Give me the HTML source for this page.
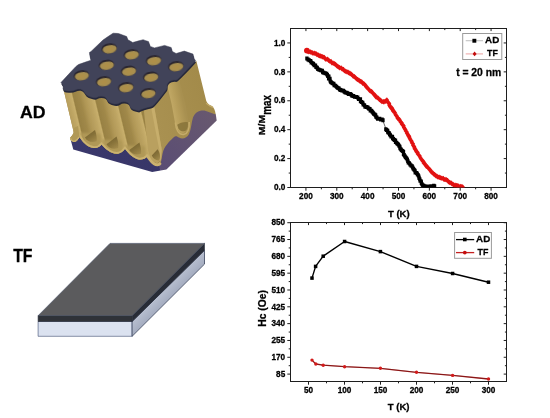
<!DOCTYPE html>
<html lang="en"><head><meta charset="utf-8"><title>AD vs TF magnetic properties</title>
<style>
html,body{margin:0;padding:0;background:#fff;}
body{width:550px;height:418px;overflow:hidden;font-family:"Liberation Sans", Arial, sans-serif;}
svg{display:block}
text{font-family:"Liberation Sans", Arial, sans-serif;font-weight:700;fill:#000;stroke:#000;stroke-width:.28px;paint-order:stroke}
.tk{font-size:8.2px}
.lab{font-size:9.6px}
.lg{font-size:9.8px}
.big{font-size:17.2px;fill:#000}
</style></head><body>
<svg width="550" height="418" viewBox="0 0 550 418">
<rect width="550" height="418" fill="#fff"/>
<g id="chart1">
<rect x="290.5" y="28.5" width="216" height="159" fill="#fff" stroke="#1e1e1e" stroke-width="1"/>
<path d="M305.93 187.5v3.2M305.93 28.5v2.6M336.79 187.5v3.2M336.79 28.5v2.6M367.64 187.5v3.2M367.64 28.5v2.6M398.5 187.5v3.2M398.5 28.5v2.6M429.36 187.5v3.2M429.36 28.5v2.6M460.21 187.5v3.2M460.21 28.5v2.6M491.07 187.5v3.2M491.07 28.5v2.6M321.36 187.5v1.8M321.36 28.5v1.6M352.21 187.5v1.8M352.21 28.5v1.6M383.07 187.5v1.8M383.07 28.5v1.6M413.93 187.5v1.8M413.93 28.5v1.6M444.79 187.5v1.8M444.79 28.5v1.6M475.64 187.5v1.8M475.64 28.5v1.6M290.5 187.5h-3.2M506.5 187.5h-2.8M290.5 158.59h-3.2M506.5 158.59h-2.8M290.5 129.68h-3.2M506.5 129.68h-2.8M290.5 100.77h-3.2M506.5 100.77h-2.8M290.5 71.86h-3.2M506.5 71.86h-2.8M290.5 42.95h-3.2M506.5 42.95h-2.8M290.5 173.05h-1.8M506.5 173.05h-1.6M290.5 144.14h-1.8M506.5 144.14h-1.6M290.5 115.23h-1.8M506.5 115.23h-1.6M290.5 86.32h-1.8M506.5 86.32h-1.6M290.5 57.41h-1.8M506.5 57.41h-1.6" stroke="#1e1e1e" stroke-width="1" fill="none"/>
<text x="305.93" y="198.9" class="tk" text-anchor="middle">200</text>
<text x="336.79" y="198.9" class="tk" text-anchor="middle">300</text>
<text x="367.64" y="198.9" class="tk" text-anchor="middle">400</text>
<text x="398.5" y="198.9" class="tk" text-anchor="middle">500</text>
<text x="429.36" y="198.9" class="tk" text-anchor="middle">600</text>
<text x="460.21" y="198.9" class="tk" text-anchor="middle">700</text>
<text x="491.07" y="198.9" class="tk" text-anchor="middle">800</text>
<text x="285.4" y="190.2" class="tk" text-anchor="end">0.0</text>
<text x="285.4" y="161.29" class="tk" text-anchor="end">0.2</text>
<text x="285.4" y="132.38" class="tk" text-anchor="end">0.4</text>
<text x="285.4" y="103.47" class="tk" text-anchor="end">0.6</text>
<text x="285.4" y="74.56" class="tk" text-anchor="end">0.8</text>
<text x="285.4" y="45.65" class="tk" text-anchor="end">1.0</text>
<text x="398.8" y="216.7" class="lab" text-anchor="middle">T (K)</text>
<text transform="translate(265.3 135.3) rotate(-90) scale(1.19 1)" class="lab" style="font-size:8.9px">M/M</text>
<text transform="translate(270.8 114.8) rotate(-90) scale(0.935 1.15)" class="lab" style="font-size:10.6px">max</text>
<path d="M383 121L386 129" stroke="#222" stroke-width=".7"/>
<clipPath id="cp1"><rect x="290.5" y="28.5" width="216" height="159"/></clipPath>
<path d="M305.25 56.6h3.3v4h-3.3zM306.39 57.46h3.3v4h-3.3zM307.54 58.31h3.3v4h-3.3zM309.05 58.93h3.3v4h-3.3zM309.6 60.52h3.3v4h-3.3zM311.08 61.17h3.3v4h-3.3zM311.86 62.12h3.3v4h-3.3zM312.52 63.2h3.3v4h-3.3zM313.86 63.59h3.3v4h-3.3zM314.33 65.02h3.3v4h-3.3zM315.59 65.66h3.3v4h-3.3zM316.16 66.99h3.3v4h-3.3zM317.45 67.77h3.3v4h-3.3zM319.02 68.27h3.3v4h-3.3zM320.64 68.71h3.3v4h-3.3zM321.07 70.14h3.3v4h-3.3zM322.22 70.85h3.3v4h-3.3zM323.64 71.29h3.3v4h-3.3zM324.99 71.8h3.3v4h-3.3zM325.72 72.93h3.3v4h-3.3zM326.12 74.09h3.3v4h-3.3zM327.21 74.57h3.3v4h-3.3zM326.94 76.41h3.3v4h-3.3zM328.31 76.81h3.3v4h-3.3zM328.43 78.46h3.3v4h-3.3zM328.93 79.72h3.3v4h-3.3zM329.77 80.61h3.3v4h-3.3zM330.81 81.31h3.3v4h-3.3zM332.13 81.72h3.3v4h-3.3zM332.53 83.22h3.3v4h-3.3zM333.86 83.79h3.3v4h-3.3zM334.88 84.67h3.3v4h-3.3zM335.84 85.65h3.3v4h-3.3zM337.19 86.22h3.3v4h-3.3zM337.96 87.39h3.3v4h-3.3zM339.05 88.06h3.3v4h-3.3zM340.29 88.58h3.3v4h-3.3zM341.81 88.82h3.3v4h-3.3zM342.68 89.71h3.3v4h-3.3zM343.68 90.47h3.3v4h-3.3zM345.05 90.7h3.3v4h-3.3zM346.06 91.29h3.3v4h-3.3zM347.04 91.91h3.3v4h-3.3zM348.61 91.94h3.3v4h-3.3zM349.65 92.67h3.3v4h-3.3zM350.37 93.73h3.3v4h-3.3zM351.79 94.08h3.3v4h-3.3zM352.87 94.78h3.3v4h-3.3zM354.69 94.96h3.3v4h-3.3zM356.06 95.59h3.3v4h-3.3zM356.91 96.99h3.3v4h-3.3zM358.78 97.37h3.3v4h-3.3zM358.84 99.21h3.3v4h-3.3zM359.94 100.01h3.3v4h-3.3zM361.08 100.77h3.3v4h-3.3zM361.54 102.41h3.3v4h-3.3zM362.84 103.21h3.3v4h-3.3zM363.44 104.71h3.3v4h-3.3zM365.03 104.92h3.3v4h-3.3zM366.14 105.61h3.3v4h-3.3zM366.99 106.56h3.3v4h-3.3zM368.29 107.06h3.3v4h-3.3zM368.63 108.39h3.3v4h-3.3zM369.83 108.87h3.3v4h-3.3zM370.58 109.79h3.3v4h-3.3zM371.42 110.63h3.3v4h-3.3zM372.05 111.74h3.3v4h-3.3zM373.14 112.39h3.3v4h-3.3zM373.97 113.3h3.3v4h-3.3zM374.29 114.72h3.3v4h-3.3zM375.2 115.55h3.3v4h-3.3zM376.05 116.75h3.3v4h-3.3zM378.03 116.82h3.3v4h-3.3zM379.05 117.4h3.3v4h-3.3zM380.43 117.62h3.3v4h-3.3zM381.34 118.31h3.3v4h-3.3zM384.16 127.19h3.3v4h-3.3zM385 128.05h3.3v4h-3.3zM386 128.75h3.3v4h-3.3zM386.22 130.35h3.3v4h-3.3zM387.42 130.97h3.3v4h-3.3zM387.95 132.26h3.3v4h-3.3zM388.71 133.32h3.3v4h-3.3zM389.45 134.4h3.3v4h-3.3zM390.82 134.71h3.3v4h-3.3zM390.98 136.23h3.3v4h-3.3zM391.82 137.08h3.3v4h-3.3zM392.69 137.9h3.3v4h-3.3zM393.85 138.42h3.3v4h-3.3zM393.87 140.08h3.3v4h-3.3zM394.92 140.81h3.3v4h-3.3zM395.73 141.78h3.3v4h-3.3zM396.76 142.53h3.3v4h-3.3zM397.42 143.65h3.3v4h-3.3zM398.18 144.67h3.3v4h-3.3zM398.37 146.28h3.3v4h-3.3zM399.21 147.24h3.3v4h-3.3zM399.88 148.37h3.3v4h-3.3zM401.08 148.97h3.3v4h-3.3zM401.86 149.99h3.3v4h-3.3zM401.82 151.89h3.3v4h-3.3zM402.52 153.05h3.3v4h-3.3zM403.25 154.18h3.3v4h-3.3zM403.93 155.36h3.3v4h-3.3zM404.84 156.31h3.3v4h-3.3zM405.67 157.44h3.3v4h-3.3zM406.12 158.95h3.3v4h-3.3zM406.62 160.41h3.3v4h-3.3zM407.74 161.25h3.3v4h-3.3zM408.43 162.52h3.3v4h-3.3zM409.39 163.42h3.3v4h-3.3zM410.52 164.15h3.3v4h-3.3zM411.06 165.47h3.3v4h-3.3zM411.68 166.71h3.3v4h-3.3zM412.56 167.69h3.3v4h-3.3zM413.37 168.8h3.3v4h-3.3zM413.57 170.52h3.3v4h-3.3zM415.09 170.92h3.3v4h-3.3zM415.74 172.19h3.3v4h-3.3zM416.59 173.26h3.3v4h-3.3zM417.17 174.53h3.3v4h-3.3zM417.45 176.1h3.3v4h-3.3zM418.11 177.29h3.3v4h-3.3zM418.49 178.76h3.3v4h-3.3zM419.6 179.4h3.3v4h-3.3zM419.71 181.04h3.3v4h-3.3zM420.34 182.16h3.3v4h-3.3zM421.09 183.16h3.3v4h-3.3zM422.05 183.85h3.3v4h-3.3zM423.21 184.34h3.3v4h-3.3zM424.2 184.6h3.3v4h-3.3zM425.4 184.65h3.3v4h-3.3zM426.79 184.51h3.3v4h-3.3zM427.99 184.56h3.3v4h-3.3zM429.38 184.32h3.3v4h-3.3zM430.22 184.63h3.3v4h-3.3zM432.14 183.86h3.3v4h-3.3zM432.95 184.2h3.3v4h-3.3z" fill="#000" clip-path="url(#cp1)"/>
<path d="M306.97 47.68l2.25 2.75l-2.25 2.75l-2.25-2.75zM307.74 48.46l2.25 2.75l-2.25 2.75l-2.25-2.75zM308.85 48.9l2.25 2.75l-2.25 2.75l-2.25-2.75zM310.41 49.29l2.25 2.75l-2.25 2.75l-2.25-2.75zM311.92 49.73l2.25 2.75l-2.25 2.75l-2.25-2.75zM313.01 50.4l2.25 2.75l-2.25 2.75l-2.25-2.75zM314.69 50.48l2.25 2.75l-2.25 2.75l-2.25-2.75zM316.02 50.91l2.25 2.75l-2.25 2.75l-2.25-2.75zM316.94 51.75l2.25 2.75l-2.25 2.75l-2.25-2.75zM318.19 52.26l2.25 2.75l-2.25 2.75l-2.25-2.75zM319.22 52.93l2.25 2.75l-2.25 2.75l-2.25-2.75zM320.49 53.36l2.25 2.75l-2.25 2.75l-2.25-2.75zM321.91 53.64l2.25 2.75l-2.25 2.75l-2.25-2.75zM322.92 54.33l2.25 2.75l-2.25 2.75l-2.25-2.75zM324.32 54.63l2.25 2.75l-2.25 2.75l-2.25-2.75zM324.98 55.67l2.25 2.75l-2.25 2.75l-2.25-2.75zM325.95 56.4l2.25 2.75l-2.25 2.75l-2.25-2.75zM327.57 56.48l2.25 2.75l-2.25 2.75l-2.25-2.75zM328.55 57.43l2.25 2.75l-2.25 2.75l-2.25-2.75zM329.55 58.36l2.25 2.75l-2.25 2.75l-2.25-2.75zM331.03 58.82l2.25 2.75l-2.25 2.75l-2.25-2.75zM331.8 59.91l2.25 2.75l-2.25 2.75l-2.25-2.75zM333.18 60.39l2.25 2.75l-2.25 2.75l-2.25-2.75zM334.53 60.9l2.25 2.75l-2.25 2.75l-2.25-2.75zM335.54 61.75l2.25 2.75l-2.25 2.75l-2.25-2.75zM336.52 62.63l2.25 2.75l-2.25 2.75l-2.25-2.75zM337.41 63.57l2.25 2.75l-2.25 2.75l-2.25-2.75zM338.62 64.18l2.25 2.75l-2.25 2.75l-2.25-2.75zM339.65 64.97l2.25 2.75l-2.25 2.75l-2.25-2.75zM341.16 65.29l2.25 2.75l-2.25 2.75l-2.25-2.75zM342.14 66.18l2.25 2.75l-2.25 2.75l-2.25-2.75zM343.42 66.78l2.25 2.75l-2.25 2.75l-2.25-2.75zM344.27 67.8l2.25 2.75l-2.25 2.75l-2.25-2.75zM345.33 68.62l2.25 2.75l-2.25 2.75l-2.25-2.75zM346.81 68.91l2.25 2.75l-2.25 2.75l-2.25-2.75zM348.04 69.46l2.25 2.75l-2.25 2.75l-2.25-2.75zM349.09 70.19l2.25 2.75l-2.25 2.75l-2.25-2.75zM350.18 70.87l2.25 2.75l-2.25 2.75l-2.25-2.75zM351.32 71.61l2.25 2.75l-2.25 2.75l-2.25-2.75zM352.39 72.41l2.25 2.75l-2.25 2.75l-2.25-2.75zM353.21 73.46l2.25 2.75l-2.25 2.75l-2.25-2.75zM354.51 74.04l2.25 2.75l-2.25 2.75l-2.25-2.75zM355.54 74.94l2.25 2.75l-2.25 2.75l-2.25-2.75zM356.47 75.93l2.25 2.75l-2.25 2.75l-2.25-2.75zM357.59 76.73l2.25 2.75l-2.25 2.75l-2.25-2.75zM358.87 77.38l2.25 2.75l-2.25 2.75l-2.25-2.75zM359.78 78.21l2.25 2.75l-2.25 2.75l-2.25-2.75zM360.96 78.77l2.25 2.75l-2.25 2.75l-2.25-2.75zM362.03 79.44l2.25 2.75l-2.25 2.75l-2.25-2.75zM362.65 80.56l2.25 2.75l-2.25 2.75l-2.25-2.75zM363.86 81.09l2.25 2.75l-2.25 2.75l-2.25-2.75zM364.77 81.88l2.25 2.75l-2.25 2.75l-2.25-2.75zM365.63 82.72l2.25 2.75l-2.25 2.75l-2.25-2.75zM366.16 83.89l2.25 2.75l-2.25 2.75l-2.25-2.75zM366.95 84.8l2.25 2.75l-2.25 2.75l-2.25-2.75zM367.84 85.61l2.25 2.75l-2.25 2.75l-2.25-2.75zM368.76 86.63l2.25 2.75l-2.25 2.75l-2.25-2.75zM369.7 87.63l2.25 2.75l-2.25 2.75l-2.25-2.75zM370.89 88.38l2.25 2.75l-2.25 2.75l-2.25-2.75zM372 89.21l2.25 2.75l-2.25 2.75l-2.25-2.75zM372.9 90.25l2.25 2.75l-2.25 2.75l-2.25-2.75zM373.51 91.31l2.25 2.75l-2.25 2.75l-2.25-2.75zM374.44 92.06l2.25 2.75l-2.25 2.75l-2.25-2.75zM375.35 92.82l2.25 2.75l-2.25 2.75l-2.25-2.75zM375.75 94.1l2.25 2.75l-2.25 2.75l-2.25-2.75zM377.1 94.65l2.25 2.75l-2.25 2.75l-2.25-2.75zM378.25 95.4l2.25 2.75l-2.25 2.75l-2.25-2.75zM379.17 96.38l2.25 2.75l-2.25 2.75l-2.25-2.75zM380.15 97.3l2.25 2.75l-2.25 2.75l-2.25-2.75zM381.05 98l2.25 2.75l-2.25 2.75l-2.25-2.75zM381.94 98.71l2.25 2.75l-2.25 2.75l-2.25-2.75zM383.37 98.88l2.25 2.75l-2.25 2.75l-2.25-2.75zM384.1 99l2.25 2.75l-2.25 2.75l-2.25-2.75zM385.38 98.57l2.25 2.75l-2.25 2.75l-2.25-2.75zM386.88 97.37l2.25 2.75l-2.25 2.75l-2.25-2.75zM387.17 98.65l2.25 2.75l-2.25 2.75l-2.25-2.75zM387.81 99.58l2.25 2.75l-2.25 2.75l-2.25-2.75zM388.77 100.18l2.25 2.75l-2.25 2.75l-2.25-2.75zM389.23 101.32l2.25 2.75l-2.25 2.75l-2.25-2.75zM389.5 102.65l2.25 2.75l-2.25 2.75l-2.25-2.75zM390.08 103.67l2.25 2.75l-2.25 2.75l-2.25-2.75zM390.69 104.66l2.25 2.75l-2.25 2.75l-2.25-2.75zM391.88 105.36l2.25 2.75l-2.25 2.75l-2.25-2.75zM392.55 106.57l2.25 2.75l-2.25 2.75l-2.25-2.75zM392.89 108.11l2.25 2.75l-2.25 2.75l-2.25-2.75zM394.03 108.85l2.25 2.75l-2.25 2.75l-2.25-2.75zM394.85 109.91l2.25 2.75l-2.25 2.75l-2.25-2.75zM395.39 111.26l2.25 2.75l-2.25 2.75l-2.25-2.75zM395.98 112.56l2.25 2.75l-2.25 2.75l-2.25-2.75zM396.86 113.55l2.25 2.75l-2.25 2.75l-2.25-2.75zM397.38 114.92l2.25 2.75l-2.25 2.75l-2.25-2.75zM398.08 116.11l2.25 2.75l-2.25 2.75l-2.25-2.75zM399.42 116.65l2.25 2.75l-2.25 2.75l-2.25-2.75zM399.99 117.96l2.25 2.75l-2.25 2.75l-2.25-2.75zM400.63 119.13l2.25 2.75l-2.25 2.75l-2.25-2.75zM401.59 119.99l2.25 2.75l-2.25 2.75l-2.25-2.75zM402 121.39l2.25 2.75l-2.25 2.75l-2.25-2.75zM402.98 122.23l2.25 2.75l-2.25 2.75l-2.25-2.75zM403.67 123.35l2.25 2.75l-2.25 2.75l-2.25-2.75zM404.01 124.82l2.25 2.75l-2.25 2.75l-2.25-2.75zM404.75 125.9l2.25 2.75l-2.25 2.75l-2.25-2.75zM405.35 127.02l2.25 2.75l-2.25 2.75l-2.25-2.75zM405.89 128.19l2.25 2.75l-2.25 2.75l-2.25-2.75zM406.67 129.13l2.25 2.75l-2.25 2.75l-2.25-2.75zM407.04 130.47l2.25 2.75l-2.25 2.75l-2.25-2.75zM407.71 131.51l2.25 2.75l-2.25 2.75l-2.25-2.75zM408.11 132.83l2.25 2.75l-2.25 2.75l-2.25-2.75zM409.15 133.5l2.25 2.75l-2.25 2.75l-2.25-2.75zM409.43 135.08l2.25 2.75l-2.25 2.75l-2.25-2.75zM410.1 136.26l2.25 2.75l-2.25 2.75l-2.25-2.75zM410.79 137.43l2.25 2.75l-2.25 2.75l-2.25-2.75zM411.6 138.48l2.25 2.75l-2.25 2.75l-2.25-2.75zM411.92 140.01l2.25 2.75l-2.25 2.75l-2.25-2.75zM412.84 140.96l2.25 2.75l-2.25 2.75l-2.25-2.75zM413.2 142.45l2.25 2.75l-2.25 2.75l-2.25-2.75zM413.82 143.49l2.25 2.75l-2.25 2.75l-2.25-2.75zM414.41 144.55l2.25 2.75l-2.25 2.75l-2.25-2.75zM414.71 145.91l2.25 2.75l-2.25 2.75l-2.25-2.75zM415.56 146.71l2.25 2.75l-2.25 2.75l-2.25-2.75zM416.01 147.93l2.25 2.75l-2.25 2.75l-2.25-2.75zM416.5 149.09l2.25 2.75l-2.25 2.75l-2.25-2.75zM417.58 149.67l2.25 2.75l-2.25 2.75l-2.25-2.75zM417.9 151.21l2.25 2.75l-2.25 2.75l-2.25-2.75zM418.78 152.2l2.25 2.75l-2.25 2.75l-2.25-2.75zM419.64 153.21l2.25 2.75l-2.25 2.75l-2.25-2.75zM420.23 154.48l2.25 2.75l-2.25 2.75l-2.25-2.75zM420.8 155.79l2.25 2.75l-2.25 2.75l-2.25-2.75zM421.61 156.84l2.25 2.75l-2.25 2.75l-2.25-2.75zM422.43 157.88l2.25 2.75l-2.25 2.75l-2.25-2.75zM423.37 158.81l2.25 2.75l-2.25 2.75l-2.25-2.75zM423.76 160.29l2.25 2.75l-2.25 2.75l-2.25-2.75zM424.84 161.08l2.25 2.75l-2.25 2.75l-2.25-2.75zM425.45 162.33l2.25 2.75l-2.25 2.75l-2.25-2.75zM426.27 163.38l2.25 2.75l-2.25 2.75l-2.25-2.75zM427.36 164.02l2.25 2.75l-2.25 2.75l-2.25-2.75zM428 165.11l2.25 2.75l-2.25 2.75l-2.25-2.75zM428.84 166.01l2.25 2.75l-2.25 2.75l-2.25-2.75zM429.76 166.83l2.25 2.75l-2.25 2.75l-2.25-2.75zM430.65 167.67l2.25 2.75l-2.25 2.75l-2.25-2.75zM431.17 168.88l2.25 2.75l-2.25 2.75l-2.25-2.75zM432.19 169.63l2.25 2.75l-2.25 2.75l-2.25-2.75zM433.05 170.55l2.25 2.75l-2.25 2.75l-2.25-2.75zM433.98 171.39l2.25 2.75l-2.25 2.75l-2.25-2.75zM435.02 172.13l2.25 2.75l-2.25 2.75l-2.25-2.75zM435.9 172.9l2.25 2.75l-2.25 2.75l-2.25-2.75zM436.97 173.48l2.25 2.75l-2.25 2.75l-2.25-2.75zM437.96 174.14l2.25 2.75l-2.25 2.75l-2.25-2.75zM439.26 174.49l2.25 2.75l-2.25 2.75l-2.25-2.75zM440.45 175.06l2.25 2.75l-2.25 2.75l-2.25-2.75zM441.89 175.39l2.25 2.75l-2.25 2.75l-2.25-2.75zM443.27 175.78l2.25 2.75l-2.25 2.75l-2.25-2.75zM443.89 176.59l2.25 2.75l-2.25 2.75l-2.25-2.75zM445.1 176.81l2.25 2.75l-2.25 2.75l-2.25-2.75zM446.37 176.98l2.25 2.75l-2.25 2.75l-2.25-2.75zM447.6 177.81l2.25 2.75l-2.25 2.75l-2.25-2.75zM448.48 179l2.25 2.75l-2.25 2.75l-2.25-2.75zM449.77 179.78l2.25 2.75l-2.25 2.75l-2.25-2.75zM451.09 180.23l2.25 2.75l-2.25 2.75l-2.25-2.75zM451.99 181.11l2.25 2.75l-2.25 2.75l-2.25-2.75zM453.22 181.66l2.25 2.75l-2.25 2.75l-2.25-2.75zM454.24 182.41l2.25 2.75l-2.25 2.75l-2.25-2.75zM455.77 182.48l2.25 2.75l-2.25 2.75l-2.25-2.75zM457 182.85l2.25 2.75l-2.25 2.75l-2.25-2.75zM458.24 183.21l2.25 2.75l-2.25 2.75l-2.25-2.75zM459.02 183.83l2.25 2.75l-2.25 2.75l-2.25-2.75zM460.58 183.67l2.25 2.75l-2.25 2.75l-2.25-2.75zM461.77 183.88l2.25 2.75l-2.25 2.75l-2.25-2.75zM462.69 184.36l2.25 2.75l-2.25 2.75l-2.25-2.75z" fill="#e21111" clip-path="url(#cp1)"/>
<circle cx="306.9" cy="50.6" r="2.9" fill="#e21111"/>
<rect x="462.7" y="33.5" width="39.1" height="26" fill="#fff" stroke="#9a9a9a" stroke-width="1"/>
<path d="M465.7 40.7H483" stroke="#c2c2c2" stroke-width="1.1"/><rect x="472.4" y="38.8" width="3.9" height="3.9" fill="#000"/>
<path d="M465.7 53.9H483" stroke="#ecaaaa" stroke-width="1.1"/><path d="M474.6 51.6l2 2.3l-2 2.3l-2-2.3z" fill="#c40d0d"/>
<text x="492.2" y="42.9" class="lg" text-anchor="middle">AD</text>
<text x="487.1" y="56.0" class="lg" textLength="10.8" lengthAdjust="spacingAndGlyphs">TF</text>
<text x="478.7" y="75.6" class="lab" text-anchor="middle" style="font-size:10.35px">t = 20 nm</text>
</g>
<g id="chart2">
<rect x="290.5" y="222.5" width="216" height="159" fill="#fff" stroke="#1e1e1e" stroke-width="1"/>
<path d="M308.5 381.5v3.2M308.5 222.5v2.6M344.5 381.5v3.2M344.5 222.5v2.6M380.5 381.5v3.2M380.5 222.5v2.6M416.5 381.5v3.2M416.5 222.5v2.6M452.5 381.5v3.2M452.5 222.5v2.6M488.5 381.5v3.2M488.5 222.5v2.6M326.5 381.5v1.8M326.5 222.5v1.6M362.5 381.5v1.8M362.5 222.5v1.6M398.5 381.5v1.8M398.5 222.5v1.6M434.5 381.5v1.8M434.5 222.5v1.6M470.5 381.5v1.8M470.5 222.5v1.6M290.5 374.1h-3.2M506.5 374.1h-2.8M290.5 357.28h-3.2M506.5 357.28h-2.8M290.5 340.46h-3.2M506.5 340.46h-2.8M290.5 323.64h-3.2M506.5 323.64h-2.8M290.5 306.81h-3.2M506.5 306.81h-2.8M290.5 289.99h-3.2M506.5 289.99h-2.8M290.5 273.17h-3.2M506.5 273.17h-2.8M290.5 256.35h-3.2M506.5 256.35h-2.8M290.5 239.53h-3.2M506.5 239.53h-2.8M290.5 222.71h-3.2M506.5 222.71h-2.8M290.5 365.69h-1.8M506.5 365.69h-1.6M290.5 348.87h-1.8M506.5 348.87h-1.6M290.5 332.05h-1.8M506.5 332.05h-1.6M290.5 315.22h-1.8M506.5 315.22h-1.6M290.5 298.4h-1.8M506.5 298.4h-1.6M290.5 281.58h-1.8M506.5 281.58h-1.6M290.5 264.76h-1.8M506.5 264.76h-1.6M290.5 247.94h-1.8M506.5 247.94h-1.6M290.5 231.12h-1.8M506.5 231.12h-1.6" stroke="#1e1e1e" stroke-width="1" fill="none"/>
<text x="308.5" y="393.4" class="tk" text-anchor="middle">50</text>
<text x="344.5" y="393.4" class="tk" text-anchor="middle">100</text>
<text x="380.5" y="393.4" class="tk" text-anchor="middle">150</text>
<text x="416.5" y="393.4" class="tk" text-anchor="middle">200</text>
<text x="452.5" y="393.4" class="tk" text-anchor="middle">250</text>
<text x="488.5" y="393.4" class="tk" text-anchor="middle">300</text>
<text x="285.2" y="376.8" class="tk" text-anchor="end">85</text>
<text x="285.2" y="359.98" class="tk" text-anchor="end">170</text>
<text x="285.2" y="343.16" class="tk" text-anchor="end">255</text>
<text x="285.2" y="326.34" class="tk" text-anchor="end">340</text>
<text x="285.2" y="309.51" class="tk" text-anchor="end">425</text>
<text x="285.2" y="292.69" class="tk" text-anchor="end">510</text>
<text x="285.2" y="275.87" class="tk" text-anchor="end">595</text>
<text x="285.2" y="259.05" class="tk" text-anchor="end">680</text>
<text x="285.2" y="242.23" class="tk" text-anchor="end">765</text>
<text x="285.2" y="225.41" class="tk" text-anchor="end">850</text>
<text x="398.6" y="410.2" class="lab" text-anchor="middle">T (K)</text>
<text transform="translate(266 308.4) rotate(-90)" class="lab" text-anchor="middle" style="font-size:10.3px">Hc (Oe)</text>
<polyline points="312,278.1 315.6,266.4 323.2,256.2 344.6,241.5 380.4,251.6 416.5,266.4 452.6,273.5 488.5,282.2" fill="none" stroke="#000" stroke-width="1.4" stroke-linejoin="round"/>
<rect x="310.25" y="276.35" width="3.5" height="3.5" fill="#000"/>
<rect x="313.85" y="264.65" width="3.5" height="3.5" fill="#000"/>
<rect x="321.45" y="254.45" width="3.5" height="3.5" fill="#000"/>
<rect x="342.85" y="239.75" width="3.5" height="3.5" fill="#000"/>
<rect x="378.65" y="249.85" width="3.5" height="3.5" fill="#000"/>
<rect x="414.75" y="264.65" width="3.5" height="3.5" fill="#000"/>
<rect x="450.85" y="271.75" width="3.5" height="3.5" fill="#000"/>
<rect x="486.75" y="280.45" width="3.5" height="3.5" fill="#000"/>
<polyline points="312,360.1 315.8,364 323.2,365.2 344.6,366.7 380.4,368.3 416.5,372.3 452.6,375.4 488.5,379" fill="none" stroke="#b01818" stroke-width="1.3" stroke-linejoin="round"/>
<polyline points="312,360.1 315.8,364 323.2,365.2 344.6,366.7 380.4,368.3 416.5,372.3 452.6,375.4 488.5,379" fill="none" stroke="#1a1a1a" stroke-width="0.5" stroke-linejoin="round" opacity=".6"/>
<circle cx="312" cy="360.1" r="1.7" fill="#d21a1a"/>
<circle cx="315.8" cy="364" r="1.7" fill="#d21a1a"/>
<circle cx="323.2" cy="365.2" r="1.7" fill="#d21a1a"/>
<circle cx="344.6" cy="366.7" r="1.7" fill="#d21a1a"/>
<circle cx="380.4" cy="368.3" r="1.7" fill="#d21a1a"/>
<circle cx="416.5" cy="372.3" r="1.7" fill="#d21a1a"/>
<circle cx="452.6" cy="375.4" r="1.7" fill="#d21a1a"/>
<circle cx="488.5" cy="379" r="1.7" fill="#d21a1a"/>
<rect x="454.6" y="232.5" width="36.8" height="25.8" fill="#fff" stroke="#9a9a9a" stroke-width="1"/>
<path d="M456 239.6H474.2" stroke="#000" stroke-width="1.3"/><rect x="463" y="237.7" width="3.6" height="3.6" fill="#000"/>
<path d="M456 252.6H474.2" stroke="#c42020" stroke-width="1.3"/><circle cx="464.8" cy="252.6" r="1.9" fill="#c40d0d"/>
<text x="483.2" y="241.8" class="lg" text-anchor="middle">AD</text>
<text x="477.6" y="254.9" class="lg" textLength="10.8" lengthAdjust="spacingAndGlyphs">TF</text>
</g>
<text transform="translate(19.9 117.7) scale(1.03 1)" class="big">AD</text>
<text transform="translate(13.2 261.8) scale(0.92 1.03)" class="big">TF</text>
<defs><linearGradient id="subS" gradientUnits="userSpaceOnUse" x1="160" y1="285" x2="171" y2="296"><stop offset="0" stop-color="#c3cad9"/><stop offset="1" stop-color="#a6aec1"/></linearGradient></defs>
<g id="slab" stroke="#3a4a6e" stroke-width="0.6" stroke-linejoin="round">
<polygon points="38.1,321.5 132.1,321.5 132.1,336.3 38.1,336.3" fill="#dbe2f0"/>
<polygon points="132.1,321.5 204.5,250.3 204.5,264.1 132.1,336.3" fill="url(#subS)" stroke="#39425a" stroke-width=".8"/>
<polygon points="38.1,315.7 132.1,315.7 132.1,321.5 38.1,321.5" fill="#2f3238" stroke="#2a2f3c"/>
<polygon points="132.1,315.7 204.5,243.4 204.5,250.3 132.1,321.5" fill="#282c36" stroke="#2a2f3c"/>
<polygon points="110,243.4 204.5,243.4 132.1,315.7 38.1,315.7" fill="#5b5b5d" stroke="#3c465e"/>
</g>
<defs>
<linearGradient id="saw" gradientUnits="userSpaceOnUse" x1="74.2" y1="100" x2="94.62" y2="95.1" spreadMethod="repeat"><stop offset="0" stop-color="#988143"/><stop offset=".28" stop-color="#a08849"/><stop offset=".5" stop-color="#b19857"/><stop offset=".8" stop-color="#bfa664"/><stop offset=".94" stop-color="#c8af6c"/><stop offset="1" stop-color="#988143"/></linearGradient>
<linearGradient id="wallR" gradientUnits="userSpaceOnUse" x1="150" y1="100" x2="210" y2="85"><stop offset="0" stop-color="#a99151"/><stop offset="1" stop-color="#a28a49"/></linearGradient>
<linearGradient id="fluteR" gradientUnits="userSpaceOnUse" x1="168" y1="100" x2="182" y2="97"><stop offset="0" stop-color="#c6ad6a"/><stop offset=".55" stop-color="#b69d5a"/><stop offset="1" stop-color="#a89050"/></linearGradient>
<linearGradient id="baseL" gradientUnits="userSpaceOnUse" x1="70" y1="140" x2="160" y2="170"><stop offset="0" stop-color="#3a386c"/><stop offset="1" stop-color="#383668"/></linearGradient>
<linearGradient id="baseR" gradientUnits="userSpaceOnUse" x1="160" y1="165" x2="216" y2="117"><stop offset="0" stop-color="#5a4d74"/><stop offset="1" stop-color="#68586f"/></linearGradient>
<radialGradient id="hole" cx=".5" cy=".5" r=".55"><stop offset="0" stop-color="#b08f46"/><stop offset=".6" stop-color="#a98f4e"/><stop offset="1" stop-color="#a08a52"/></radialGradient>
<linearGradient id="capg" x1=".25" y1=".1" x2=".8" y2="1"><stop offset="0" stop-color="#776330"/><stop offset=".45" stop-color="#867139"/><stop offset="1" stop-color="#a1894a"/></linearGradient>
<filter id="b03" x="-10%" y="-10%" width="120%" height="120%"><feGaussianBlur stdDeviation="0.35"/></filter>
<filter id="b05" x="-5%" y="-5%" width="110%" height="110%"><feGaussianBlur stdDeviation="0.7"/></filter>
<filter id="b1" x="-20%" y="-20%" width="140%" height="140%"><feGaussianBlur stdDeviation="0.6"/></filter>
<filter id="b2" x="-20%" y="-20%" width="140%" height="140%"><feGaussianBlur stdDeviation="1.1"/></filter>
<clipPath id="cwallP"><path d="M63.2 88 L100 92 L139 108 L152 106 L160.8 163 C159.5 165.6 156.5 166 154 164.2 C151 162 149.6 158.8 147.2 156.4 C145.5 158.6 142.5 159.8 139 159.4 C133.5 158.6 129 154 125 148.8 C123 151.4 120.5 153.8 116.6 153.8 C110.5 153.4 106 149.5 101.5 144.6 C99.6 147 97 148.4 93.6 148 C87.5 147 83 142.5 79.5 136.9 C78 139.6 76.6 141.6 74.6 141.7 L70.6 139.8 L70.4 137.8 L73.9 133 Z"/></clipPath>
</defs>
<g id="block">
<polygon points="70.6,139.5 73.3,149.6 152.2,172 160.6,170.4 161.5,150 110,135 80,130" fill="url(#baseL)"/>
<polygon points="215.7,114 203.2,108.5 190,110 170,130 158,150 159.6,168.6 160.6,170.4 166.4,169.4 216.7,120.6" fill="url(#baseR)"/>
<path d="M63.2 88 L100 92 L139 108 L152 106 L160.8 163 C159.5 165.6 156.5 166 154 164.2 C151 162 149.6 158.8 147.2 156.4 C145.5 158.6 142.5 159.8 139 159.4 C133.5 158.6 129 154 125 148.8 C123 151.4 120.5 153.8 116.6 153.8 C110.5 153.4 106 149.5 101.5 144.6 C99.6 147 97 148.4 93.6 148 C87.5 147 83 142.5 79.5 136.9 C78 139.6 76.6 141.6 74.6 141.7 L70.6 139.8 L70.4 137.8 L73.9 133 Z" fill="#b0975a"/>
<g clip-path="url(#cwallP)">
<rect x="55" y="80" width="115" height="95" fill="url(#saw)" filter="url(#b05)"/>
<path d="M80.3 132.8 C83.3 143.8 90.3 149.8 95.3 148.8 C100.3 146.8 101.8 141.8 100.3 133.8Z" fill="#b09856" filter="url(#b2)"/>
<path d="M101.9 139.4 C104.9 150.4 111.9 156.4 116.9 155.4 C121.9 153.4 123.4 148.4 121.9 140.4Z" fill="#b09856" filter="url(#b2)"/>
<path d="M124.7 145.3 C127.7 156.3 134.7 162.3 139.7 161.3 C144.7 159.3 146.2 154.3 144.7 146.3Z" fill="#b09856" filter="url(#b2)"/>
<path d="M160.8 163 C159.5 165.6 156.5 166 154 164.2 C151 162 149.6 158.8 147.2 156.4 C145.5 158.6 142.5 159.8 139 159.4 C133.5 158.6 129 154 125 148.8 C123 151.4 120.5 153.8 116.6 153.8 C110.5 153.4 106 149.5 101.5 144.6 C99.6 147 97 148.4 93.6 148 C87.5 147 83 142.5 79.5 136.9 C78 139.6 76.6 141.6 74.6 141.7 L70.6 139.8" fill="none" stroke="#cbb270" stroke-width="3.4" filter="url(#b1)"/>
<path d="M95 129.9 L84.9 137.6 C86.7 141.4 91.7 143.2 96.6 141.3 C97.1 137.8 96.3 133.8 95 129.9Z" fill="url(#capg)" filter="url(#b1)"/>
<path d="M116.6 136.5 L106.5 144.2 C108.3 148 113.3 149.8 118.2 147.9 C118.7 144.4 117.9 140.4 116.6 136.5Z" fill="url(#capg)" filter="url(#b1)"/>
<path d="M139.4 142.4 L129.3 150.1 C131.1 153.9 136.1 155.7 141 153.8 C141.5 150.3 140.7 146.3 139.4 142.4Z" fill="url(#capg)" filter="url(#b1)"/>
</g>
<path d="M73.6 128 C74.2 133 72.6 135.6 70.2 137.6 C70 140 72.6 142.2 74.8 141.8 C76.8 141.4 78 139.6 79.5 136.9 L78 126Z" fill="#b19957"/>
<path d="M70.6 138.4 C70.8 140.4 72.8 141.6 74.8 141.2 C76.6 140.8 77.8 139.2 79 137" fill="none" stroke="#cbb270" stroke-width="1.3" filter="url(#b1)"/>
<path d="M152 106 L166 86 L196.4 61 L205.6 98.2 C206.2 102 208 104.8 211.4 105.8 C213.8 107 215.2 110.5 215.7 114.4 L204.5 110.6 C199.5 109.8 195 112.5 193 117.5 C191.3 122.5 191.4 129 189 134 C187 138 182.5 139.6 179 137.6 C177.4 136.4 176.3 135.6 174.8 136.6 C170.5 140 165.5 145.5 163.4 150.5 C162 155 161.6 159.5 160.8 163 Z" fill="url(#wallR)"/>
<polygon points="166.9,84.5 169.1,81.3 173.5,79.7 176.2,80.3 178.9,79.1 185.6,105 188.3,121 188.4,126 187,130.6 183.6,133.2 179.6,132.4 176.8,128.4 175,122.4 171.6,104" fill="url(#fluteR)"/>
<path d="M177.2 124.8 C179.5 122.8 184 121.5 187.7 122 C188.3 125 187.9 128.6 186 130.6 C183.6 132 180.2 131.4 178.5 128.8Z" fill="#89743a" filter="url(#b1)" opacity=".9"/>
<path d="M175.3 122.5 C175.9 129.6 178.8 134.8 183.6 134.4 C187.6 133.8 189.5 129 189.2 122" fill="none" stroke="#c5ac6a" stroke-width="1.5" filter="url(#b1)"/>
<polygon points="143.8,109.6 151.5,106.5 153.9,105.2 161.5,148 161,160 157,163.5 151,160 148,150" fill="#b9a05e" filter="url(#b03)"/>
<polygon points="151,106.7 153.9,105.2 158,128 161.8,150 160.8,162.5 159.4,150 155,128" fill="#c7ae6c" filter="url(#b1)"/>
<path d="M157.6 149.2 L151.8 155.6 C153 158.6 156 160.6 158.8 160.4 C160.4 158.5 160.8 154 157.6 149.2Z" fill="url(#capg)" filter="url(#b1)"/>
<path d="M147.4 156.6 C149.6 158.8 151 162 154 164 C156.4 165.6 159.4 165.4 160.6 163.2" fill="none" stroke="#cbb270" stroke-width="2.6" filter="url(#b1)"/>
<path d="M206.2 103.2 C208 105.6 211 106 213 107.6" fill="none" stroke="#c3aa68" stroke-width="1.3" filter="url(#b1)"/>
<path d="M108.45 38.4L113.5 35L116.2 35.15L118.9 35.3L123 36.8L127.1 38.3L127.65 39.9L128.2 41.5L130.65 42.9L133.1 44.3L138.3 42.9L143.5 41.5L146.2 42.45L148.9 43.4L149.8 45.8L150.7 48.2L152.75 48.95L154.8 49.7L159.9 48.45L165 47.2L168.3 48.25L171.6 49.3L172.15 51.25L172.7 53.2L174.6 54.25L176.5 55.3L180.6 54.1L184.7 52.9L189.05 54.4L193.4 55.9L193.95 58.1L194.5 60.3L195.25 61.45L196 62.6L191.2 67.65Q186.4 72.7 182.7 76.55Q179 80.4 177.8 81.25Q176.6 82.1 175.25 81.8Q173.9 81.5 171.7 82.3Q169.5 83.1 168.4 84.7Q167.3 86.3 167.5 88.15Q167.7 90 166.7 91.45Q165.7 92.9 160 99.95Q154.3 107 153 107.7Q151.7 108.4 147.85 109.25Q144 110.1 141.55 111.3L139.1 112.5L136.1 111.85Q133.1 111.2 131.75 110.1Q130.4 109 130.15 107.35Q129.9 105.7 128.25 104.6Q126.6 103.5 124.15 103.5Q121.7 103.5 119.8 104.9Q117.9 106.3 114.6 105.75Q111.3 105.2 109.65 104.1Q108 103 107.3 101.2Q106.6 99.4 105.25 98.7Q103.9 98 101.45 98Q99 98 97.4 99.1Q95.8 100.2 91.95 99.1Q88.1 98 86.75 96.65Q85.4 95.3 84.3 93.35Q83.2 91.4 80.75 90.85Q78.3 90.3 75.6 91.7Q72.9 93.1 69.05 92.8Q65.2 92.5 64.1 91.7Q63 90.9 63.55 89.55Q64.1 88.2 62.75 86.25L61.4 84.3L68.75 76.4L76.1 68.5L77.5 67.4L78.9 66.3L85.15 64.15L91.4 62L90.85 59.8L90.3 57.6L90.05 55.95L89.8 54.3L90.6 53.8L91.4 53.3L97.4 47.55L103.4 41.8L108.45 38.4Z" fill="#25273a"/>
<path d="M108.05 36.6L113.1 33.2L115.8 33.35L118.5 33.5L122.6 35L126.7 36.5L127.25 38.1L127.8 39.7L130.25 41.1L132.7 42.5L137.9 41.1L143.1 39.7L145.8 40.65L148.5 41.6L149.4 44L150.3 46.4L152.35 47.15L154.4 47.9L159.5 46.65L164.6 45.4L167.9 46.45L171.2 47.5L171.75 49.45L172.3 51.4L174.2 52.45L176.1 53.5L180.2 52.3L184.3 51.1L188.65 52.6L193 54.1L193.55 56.3L194.1 58.5L194.85 59.65L195.6 60.8L190.8 65.85Q186 70.9 182.3 74.75Q178.6 78.6 177.4 79.45Q176.2 80.3 174.85 80Q173.5 79.7 171.3 80.5Q169.1 81.3 168 82.9Q166.9 84.5 167.1 86.35Q167.3 88.2 166.3 89.65Q165.3 91.1 159.6 98.15Q153.9 105.2 152.6 105.9Q151.3 106.6 147.45 107.45Q143.6 108.3 141.15 109.5L138.7 110.7L135.7 110.05Q132.7 109.4 131.35 108.3Q130 107.2 129.75 105.55Q129.5 103.9 127.85 102.8Q126.2 101.7 123.75 101.7Q121.3 101.7 119.4 103.1Q117.5 104.5 114.2 103.95Q110.9 103.4 109.25 102.3Q107.6 101.2 106.9 99.4Q106.2 97.6 104.85 96.9Q103.5 96.2 101.05 96.2Q98.6 96.2 97 97.3Q95.4 98.4 91.55 97.3Q87.7 96.2 86.35 94.85Q85 93.5 83.9 91.55Q82.8 89.6 80.35 89.05Q77.9 88.5 75.2 89.9Q72.5 91.3 68.65 91Q64.8 90.7 63.7 89.9Q62.6 89.1 63.15 87.75Q63.7 86.4 62.35 84.45L61 82.5L68.35 74.6L75.7 66.7L77.1 65.6L78.5 64.5L84.75 62.35L91 60.2L90.45 58L89.9 55.8L89.65 54.15L89.4 52.5L90.2 52L91 51.5L97 45.75L103 40L108.05 36.6Z" fill="#414359" stroke="#3c3e53" stroke-width=".5" stroke-linejoin="round"/>
<g transform="translate(109.2 48.45) rotate(-9)"><ellipse rx="7.7" ry="5.0" fill="#27212b" filter="url(#b03)"/><ellipse cx=".35" cy=".8" rx="7.15" ry="4.15" fill="url(#hole)" filter="url(#b03)"/></g>
<g transform="translate(131.4 54.4) rotate(-9)"><ellipse rx="7.7" ry="5.0" fill="#27212b" filter="url(#b03)"/><ellipse cx=".35" cy=".8" rx="7.15" ry="4.15" fill="url(#hole)" filter="url(#b03)"/></g>
<g transform="translate(153.6 60.35) rotate(-9)"><ellipse rx="7.7" ry="5.0" fill="#27212b" filter="url(#b03)"/><ellipse cx=".35" cy=".8" rx="7.15" ry="4.15" fill="url(#hole)" filter="url(#b03)"/></g>
<g transform="translate(175.8 66.3) rotate(-9)"><ellipse rx="7.7" ry="5.0" fill="#27212b" filter="url(#b03)"/><ellipse cx=".35" cy=".8" rx="7.15" ry="4.15" fill="url(#hole)" filter="url(#b03)"/></g>
<g transform="translate(106.4 64.9) rotate(-9)"><ellipse rx="7.7" ry="5.0" fill="#27212b" filter="url(#b03)"/><ellipse cx=".35" cy=".8" rx="7.15" ry="4.15" fill="url(#hole)" filter="url(#b03)"/></g>
<g transform="translate(128.6 70.85) rotate(-9)"><ellipse rx="7.7" ry="5.0" fill="#27212b" filter="url(#b03)"/><ellipse cx=".35" cy=".8" rx="7.15" ry="4.15" fill="url(#hole)" filter="url(#b03)"/></g>
<g transform="translate(150.8 76.8) rotate(-9)"><ellipse rx="7.7" ry="5.0" fill="#27212b" filter="url(#b03)"/><ellipse cx=".35" cy=".8" rx="7.15" ry="4.15" fill="url(#hole)" filter="url(#b03)"/></g>
<g transform="translate(81.4 75.4) rotate(-9)"><ellipse rx="7.7" ry="5.0" fill="#27212b" filter="url(#b03)"/><ellipse cx=".35" cy=".8" rx="7.15" ry="4.15" fill="url(#hole)" filter="url(#b03)"/></g>
<g transform="translate(103.6 81.35) rotate(-9)"><ellipse rx="7.7" ry="5.0" fill="#27212b" filter="url(#b03)"/><ellipse cx=".35" cy=".8" rx="7.15" ry="4.15" fill="url(#hole)" filter="url(#b03)"/></g>
<g transform="translate(125.8 87.3) rotate(-9)"><ellipse rx="7.7" ry="5.0" fill="#27212b" filter="url(#b03)"/><ellipse cx=".35" cy=".8" rx="7.15" ry="4.15" fill="url(#hole)" filter="url(#b03)"/></g>
<g transform="translate(148 93.25) rotate(-9)"><ellipse rx="7.7" ry="5.0" fill="#27212b" filter="url(#b03)"/><ellipse cx=".35" cy=".8" rx="7.15" ry="4.15" fill="url(#hole)" filter="url(#b03)"/></g>
</g>
</svg>
</body></html>
